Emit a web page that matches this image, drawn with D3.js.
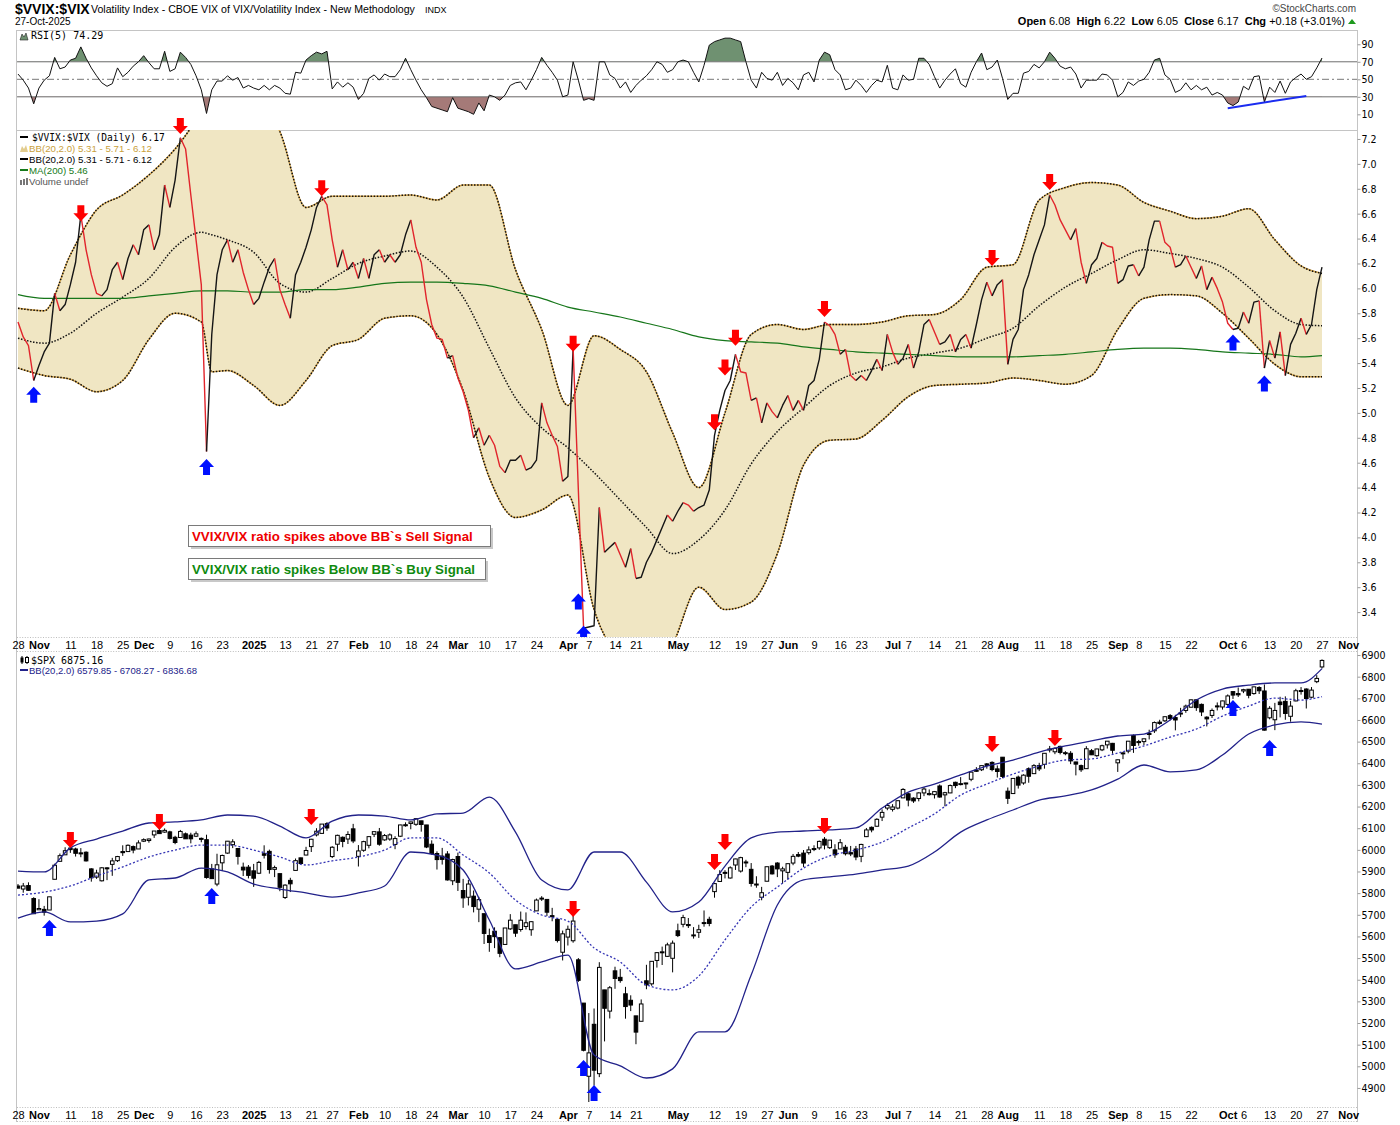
<!DOCTYPE html>
<html>
<head>
<meta charset="utf-8">
<title>$VVIX:$VIX</title>
<script src="https://cdn.jsdelivr.net/npm/d3@7/dist/d3.min.js"></script>
<style>
  body { margin: 0; background: #ffffff; }
</style>
</head>
<body>
<div id="chart"></div>
<script>
// ---- data ----

// $VVIX:$VIX daily close, Oct 28 2024 .. Oct 27 2025 (250 trading days)
const ratio = [
  5.73, 5.61, 5.54, 5.26, 5.38, 5.49, 5.56, 5.96, 5.82, 5.87,
  6.03, 6.21, 6.59, 6.31, 6.11, 5.96, 5.94, 5.99, 6.15, 6.21,
  6.07, 6.24, 6.35, 6.27, 6.47, 6.51, 6.31, 6.43, 6.83, 6.65,
  6.87, 7.21, 7.12, 6.75, 6.39, 6.03, 4.69, 5.63, 6.11, 6.31,
  6.39, 6.21, 6.31, 6.13, 5.99, 5.87, 5.92, 6.05, 6.17, 6.24,
  5.99, 5.87, 5.76, 6.11, 6.21, 6.33, 6.47, 6.65, 6.74, 6.67,
  6.39, 6.17, 6.31, 6.15, 6.21, 6.08, 6.24, 6.08, 6.27, 6.31,
  6.21, 6.27, 6.21, 6.27, 6.43, 6.55, 6.33, 6.21, 5.91, 5.71,
  5.60, 5.59, 5.44, 5.46, 5.28, 5.17, 5.02, 4.80, 4.88, 4.74,
  4.82, 4.74, 4.57, 4.52, 4.62, 4.62, 4.66, 4.54, 4.56, 4.62,
  5.08, 4.92, 4.82, 4.73, 4.45, 4.49, 5.52, 4.38, 3.27, 3.28,
  3.29, 4.24, 3.88, 3.92, 3.96, 3.86, 3.76, 3.91, 3.67, 3.68,
  3.80, 3.88, 3.98, 4.08, 4.18, 4.13, 4.21, 4.28, 4.26, 4.21,
  4.24, 4.26, 4.38, 4.82, 5.02, 5.18, 5.26, 5.47, 5.33, 5.32,
  5.10, 5.12, 4.92, 5.08, 5.01, 4.96, 5.06, 5.14, 5.02, 5.10,
  5.02, 5.22, 5.26, 5.43, 5.73, 5.70, 5.63, 5.47, 5.51, 5.30,
  5.26, 5.30, 5.26, 5.34, 5.43, 5.34, 5.63, 5.49, 5.39, 5.44,
  5.55, 5.36, 5.49, 5.71, 5.75, 5.65, 5.55, 5.57, 5.63, 5.49,
  5.59, 5.63, 5.52, 5.71, 5.91, 6.05, 5.94, 6.03, 6.07, 5.39,
  5.59, 5.67, 5.99, 6.11, 6.27, 6.39, 6.51, 6.75, 6.67, 6.55,
  6.47, 6.39, 6.48, 6.21, 6.04, 6.19, 6.24, 6.37, 6.34, 6.33,
  6.04, 6.07, 6.18, 6.19, 6.10, 6.17, 6.39, 6.54, 6.54, 6.37,
  6.33, 6.17, 6.19, 6.26, 6.17, 6.08, 6.18, 5.99, 6.09, 6.00,
  5.89, 5.72, 5.67, 5.68, 5.81, 5.72, 5.89, 5.90, 5.36, 5.58,
  5.44, 5.65, 5.30, 5.55, 5.64, 5.76, 5.63, 5.71, 5.99, 6.17
];

// RSI(5) of the ratio, one value per day
const rsi = [
  56, 49, 40, 22, 40, 49, 54, 75, 62, 64,
  72, 74, 87, 74, 63, 54, 46, 42, 45, 63,
  53, 58, 65, 70, 77, 69, 62, 62, 82, 59,
  62, 81, 75, 67, 54, 38, 11, 38, 48, 48,
  54, 49, 52, 40, 43, 40, 38, 43, 38, 43,
  40, 34, 33, 58, 57, 72, 77, 81, 79, 82,
  39, 47, 41, 46, 41, 27, 34, 51, 55, 49,
  56, 53, 53, 61, 74, 61, 49, 38, 29, 19,
  17, 15, 13, 29, 17, 15, 13, 10, 23, 14,
  32, 30, 26, 32, 43, 46, 47, 38, 49, 61,
  75, 66, 58, 49, 30, 32, 70, 49, 26, 28,
  26, 70, 70, 55, 51, 40, 47, 35, 43, 49,
  54, 61, 70, 67, 58, 61, 70, 72, 70, 58,
  47, 66, 89, 93, 95, 97, 97, 95, 93, 70,
  49, 40, 58, 51, 49, 58, 43, 51, 46, 38,
  55, 58, 47, 72, 81, 78, 61, 55, 38, 40,
  49, 43, 35, 43, 49, 47, 66, 40, 38, 55,
  49, 50, 74, 74, 67, 53, 40, 49, 56, 62,
  45, 41, 58, 70, 80, 61, 64, 72, 51, 27,
  34, 34, 57, 59, 67, 63, 70, 81, 74, 65,
  62, 64, 56, 40, 49, 49, 49, 56, 55, 49,
  30, 35, 47, 43, 48, 50, 58, 72, 74, 55,
  50, 35, 38, 46, 38, 43, 38, 41, 32, 35,
  32, 23, 20, 24, 42, 38, 53, 54, 24, 41,
  35, 48, 34, 47, 52, 56, 50, 53, 63, 74.29
];
// RSI trendline drawn on the chart: [day, rsi]
const rsiTrend = [[231, 17], [246, 31]];

// trading days at which the ratio's bands / MA were read
const ratioBandDays = [
  0, 5, 10, 15, 20, 25, 30, 35, 37, 40, 45, 50, 55, 60, 65, 70, 75, 80, 85, 90,
  95, 100, 105, 110, 115, 120, 125, 130, 135, 140, 145, 150, 155, 160, 165, 170,
  175, 180, 185, 190, 195, 200, 205, 210, 215, 220, 225, 230, 235, 240, 245, 249
];
const bbUpper = [
  5.84, 5.82, 6.27, 6.63, 6.75, 6.91, 7.12, 7.40, 7.50, 7.55, 7.55,
  7.26, 6.65, 6.74, 6.74, 6.74, 6.75, 6.71, 6.83, 6.83, 6.15,
  5.67, 5.06, 5.62, 5.51, 5.33, 4.84, 4.40, 5.00, 5.63, 5.71,
  5.67, 5.71, 5.71, 5.73, 5.78, 5.79, 5.91, 6.17, 6.19, 6.71,
  6.81, 6.85, 6.83, 6.69, 6.62, 6.56, 6.58, 6.64, 6.39, 6.18, 6.12
];
const bbMiddle = [
  5.60, 5.56, 5.64, 5.80, 5.93, 6.08, 6.33, 6.45, 6.43, 6.39, 6.29,
  6.04, 5.97, 6.08, 6.20, 6.26, 6.30, 6.17, 5.93, 5.52, 5.12,
  4.88, 4.72, 4.52, 4.30, 4.08, 3.87, 3.98, 4.22, 4.59, 4.85,
  5.04, 5.22, 5.32, 5.37, 5.44, 5.48, 5.52, 5.60, 5.68, 5.86,
  6.01, 6.12, 6.23, 6.31, 6.28, 6.24, 6.17, 6.01, 5.82, 5.71, 5.70
];
const bbLower = [
  5.36, 5.30, 5.27, 5.17, 5.26, 5.59, 5.80, 5.73, 5.33, 5.34, 5.22,
  5.06, 5.26, 5.54, 5.59, 5.76, 5.78, 5.63, 5.18, 4.48, 4.16,
  4.22, 4.34, 3.42, 3.02, 2.85, 3.14, 3.60, 3.42, 3.48, 3.87,
  4.58, 4.78, 4.79, 4.94, 5.13, 5.22, 5.23, 5.24, 5.28, 5.26,
  5.23, 5.30, 5.67, 5.92, 5.95, 5.94, 5.80, 5.60, 5.39, 5.29, 5.29
];
const ma200 = [
  5.95, 5.92, 5.92, 5.92, 5.92, 5.94, 5.96, 5.98, 5.98, 5.98, 5.97,
  5.97, 5.99, 5.99, 6.01, 6.04, 6.05, 6.05, 6.04, 6.02, 5.97,
  5.92, 5.85, 5.81, 5.77, 5.72, 5.67, 5.61, 5.58, 5.57, 5.56,
  5.53, 5.51, 5.49, 5.48, 5.47, 5.46, 5.45, 5.45, 5.45, 5.46,
  5.47, 5.49, 5.51, 5.52, 5.52, 5.51, 5.49, 5.48, 5.47, 5.45, 5.46
];

// $SPX daily candles [open, high, low, close]
const spxCandles = [
  [5833,5842,5823,5823],[5819,5847,5802,5833],[5835,5850,5811,5813],[5775,5781,5703,5705],
  [5723,5772,5723,5729],[5725,5741,5696,5712],[5722,5783,5722,5783],[5864,5936,5864,5929],
  [5947,5983,5947,5973],[5977,6012,5977,5996],[6008,6018,5986,6001],[6004,6010,5969,5984],
  [5986,6008,5966,5985],[5989,5993,5946,5949],[5912,5915,5853,5871],[5874,5908,5866,5893],
  [5857,5920,5854,5917],[5917,5920,5860,5917],[5933,5963,5880,5949],[5950,5972,5944,5969],
  [5992,6021,5972,5987],[5992,6025,5990,6021],[6015,6020,5984,5999],[6004,6044,6004,6032],
  [6040,6053,6036,6047],[6043,6052,6033,6050],[6069,6087,6055,6087],[6089,6099,6075,6075],
  [6082,6099,6079,6090],[6083,6088,6048,6053],[6058,6065,6026,6034],[6057,6092,6057,6085],
  [6074,6080,6051,6051],[6068,6079,6030,6051],[6063,6085,6059,6074],[6053,6057,6035,6050],
  [6047,6070,5867,5872],[5912,5935,5866,5867],[5842,5982,5832,5931],[5940,5978,5902,5974],
  [5985,6041,5982,6040],[6024,6049,6008,6037],[6006,6007,5932,5970],[5920,5941,5879,5907],
  [5920,5930,5868,5882],
  [5903,5935,5829,5869],[5892,5949,5888,5942],[5982,6021,5960,5975],[5993,6001,5890,5909],
  [5910,5927,5874,5918],[5890,5890,5809,5827],[5780,5841,5773,5837],[5859,5871,5805,5843],
  [5905,5960,5905,5950],[5963,5964,5935,5937],[5976,6014,5975,5997],[6015,6051,5990,6049],
  [6069,6100,6062,6086],[6076,6118,6075,6119],[6121,6128,6088,6101],[5969,6017,5962,6012],
  [6026,6070,5994,6067],[6058,6062,6012,6039],[6050,6086,6027,6071],[6097,6120,6031,6041],
  [5970,6022,5923,5995],[5998,6042,5991,6038],[6021,6062,6007,6061],[6072,6084,6059,6084],
  [6083,6101,6019,6026],[6046,6073,6042,6066],[6050,6076,6042,6069],[6025,6063,6003,6052],
  [6063,6116,6059,6115],[6116,6127,6107,6115],[6122,6130,6095,6129],[6118,6147,6111,6144],
  [6134,6134,6084,6117],[6115,6115,6008,6013],[6026,6044,5977,5983],[5983,5993,5909,5955],
  [5971,6009,5932,5956],[5981,5994,5858,5861],[5857,5959,5837,5955],
  [5969,5987,5810,5850],[5812,5866,5732,5778],[5781,5861,5743,5842],[5786,5812,5711,5738],
  [5726,5783,5666,5770],[5705,5705,5565,5614],[5604,5636,5529,5572],[5624,5642,5546,5599],
  [5594,5597,5504,5522],[5563,5639,5563,5639],[5635,5703,5630,5675],[5654,5654,5598,5615],
  [5632,5715,5622,5675],[5646,5711,5632,5663],[5631,5670,5603,5668],[5718,5775,5718,5768],
  [5775,5786,5764,5777],[5771,5772,5694,5712],[5696,5732,5670,5693],[5679,5685,5572,5581],
  [5527,5627,5489,5612],
  [5597,5650,5558,5633],[5580,5695,5571,5671],[5492,5500,5390,5397],[5292,5292,5069,5074],
  [4954,5246,4835,5062],[5194,5267,4911,4982],[4966,5481,4950,5457],[5353,5353,5115,5268],
  [5255,5371,5221,5363],[5441,5460,5358,5406],[5411,5450,5386,5396],[5335,5367,5220,5276],
  [5305,5328,5255,5283],[5233,5233,5102,5158],[5208,5309,5208,5288],[5395,5469,5356,5376],
  [5381,5485,5372,5485],[5489,5528,5456,5525],[5529,5553,5468,5529],[5508,5571,5505,5561],
  [5499,5581,5434,5569],
  [5626,5659,5597,5604],[5656,5700,5642,5687],[5655,5685,5639,5650],[5606,5643,5590,5607],
  [5619,5654,5593,5631],[5663,5720,5645,5664],[5679,5691,5647,5660],[5807,5845,5779,5844],
  [5854,5906,5852,5886],[5896,5906,5868,5892],[5870,5924,5867,5917],[5930,5959,5907,5958],
  [5902,5968,5895,5964],[5944,5954,5920,5940],[5910,5939,5830,5845],[5841,5878,5825,5842],
  [5781,5829,5767,5802],[5855,5922,5855,5922],[5925,5930,5886,5889],[5939,5943,5874,5912],
  [5903,5922,5843,5912],
  [5896,5937,5862,5936],[5939,5981,5929,5970],[5978,5990,5966,5971],[5985,5999,5921,5939],
  [5987,6016,5978,6000],[6004,6021,5994,6006],[6009,6043,6000,6039],[6049,6059,6002,6022],
  [6010,6045,6004,6045],[6000,6026,5963,5977],[6004,6050,6004,6033],[6012,6023,5974,5982],
  [5987,6018,5971,5981],[6004,6018,5952,5967],[5970,6028,5943,6025],[6061,6101,6059,6092],
  [6104,6108,6081,6092],[6109,6146,6107,6141],[6151,6187,6133,6173],[6193,6215,6183,6205],
  [6187,6211,6177,6198],[6193,6227,6187,6227],[6240,6285,6240,6279],[6259,6263,6201,6230],
  [6239,6243,6217,6226],[6237,6266,6224,6263],[6263,6290,6248,6281],[6255,6279,6251,6260],
  [6255,6272,6237,6269],[6295,6302,6241,6244],[6254,6268,6201,6264],[6263,6302,6262,6297],
  [6312,6315,6285,6297],[6304,6336,6298,6306],[6306,6310,6281,6309],[6326,6360,6317,6359],
  [6368,6382,6360,6363],[6370,6389,6364,6389],[6397,6401,6375,6390],[6404,6409,6363,6371],
  [6374,6390,6334,6362],[6428,6428,6331,6339],
  [6271,6288,6212,6238],[6260,6330,6260,6330],[6336,6343,6283,6299],[6309,6349,6301,6345],
  [6375,6381,6310,6340],[6352,6396,6352,6389],[6389,6402,6364,6374],[6395,6446,6375,6446],
  [6466,6480,6450,6466],[6453,6473,6442,6469],[6478,6481,6441,6450],[6445,6456,6437,6449],
  [6446,6456,6396,6411],[6406,6407,6344,6396],[6389,6394,6360,6370],[6375,6479,6375,6467],
  [6458,6466,6438,6439],[6435,6467,6430,6466],[6462,6486,6456,6481],[6485,6502,6468,6502],
  [6492,6494,6444,6460],
  [6402,6417,6360,6416],[6444,6453,6419,6448],[6456,6502,6446,6502],[6528,6533,6448,6482],
  [6500,6508,6481,6496],[6500,6513,6484,6513],[6538,6555,6510,6533],[6550,6593,6540,6588],
  [6590,6601,6578,6584],[6596,6616,6591,6615],[6620,6627,6598,6607],[6611,6624,6552,6600],
  [6631,6656,6613,6632],[6644,6671,6633,6664],[6659,6695,6658,6693],[6693,6697,6642,6657],
  [6672,6676,6618,6637],[6613,6617,6570,6605],[6621,6653,6609,6644],[6665,6681,6644,6661],
  [6660,6689,6648,6688],
  [6672,6718,6665,6711],[6731,6731,6697,6715],[6722,6750,6706,6716],[6734,6744,6724,6740],
  [6742,6743,6700,6714],[6722,6753,6717,6753],[6750,6756,6720,6735],[6734,6764,6551,6553],
  [6610,6664,6603,6654],[6601,6679,6553,6644],[6683,6707,6612,6671],[6686,6709,6601,6630],
  [6617,6688,6592,6664],[6688,6744,6686,6735],[6736,6752,6717,6735],[6743,6746,6653,6699],
  [6705,6752,6700,6738],[6777,6807,6770,6792],[6845,6880,6838,6875]
];

// $SPX BB(20,2), sampled every 5th trading day
const spxBandStep = 5;
const spxUpper = [
  5902, 5898, 6009, 6050, 6087, 6124, 6129, 6138, 6161, 6156,
  6110, 6055, 6133, 6161, 6156, 6138, 6166, 6170, 6244, 6082,
  5861, 5815, 5990, 5990, 5851, 5713, 5759, 5925, 6055, 6082,
  6087, 6092, 6101, 6193, 6267, 6304, 6346, 6387, 6415, 6452,
  6480, 6503, 6526, 6535, 6600, 6692, 6743, 6761, 6771, 6771, 6837
];
const spxMiddle = [
  5791, 5805, 5833, 5879, 5921, 5967, 5999, 6022, 6022, 5999,
  5967, 5930, 5949, 5967, 5999, 6055, 6055, 5976, 5893, 5768,
  5699, 5671, 5547, 5482, 5376, 5353, 5417, 5584, 5736, 5828,
  5916, 5972, 5999, 6036, 6101, 6166, 6253, 6304, 6350, 6387,
  6415, 6420, 6447, 6480, 6521, 6558, 6618, 6664, 6701, 6692, 6708
];
const spxLower = [
  5685, 5713, 5667, 5671, 5704, 5861, 5870, 5916, 5898, 5842,
  5819, 5801, 5782, 5801, 5833, 5990, 5976, 5907, 5676, 5450,
  5482, 5514, 5052, 5002, 4946, 4988, 5159, 5159, 5422, 5745,
  5861, 5875, 5888, 5907, 5925, 5990, 6082, 6138, 6184, 6230,
  6249, 6277, 6327, 6392, 6360, 6369, 6438, 6535, 6577, 6591, 6581
];

// signal arrows: [day, value at arrow tip]
const ratioSell = [[12,6.54],[31,7.24],[58,6.74],[106,5.49],[133,4.86],[135,5.30],[137,5.54],[154,5.77],[186,6.18],[197,6.79]];
const ratioBuy = [[3,5.21],[36,4.63],[107,3.55],[108,3.29],[232,5.63],[238,5.30]];
const spxSell = [[10,6009],[27,6092],[56,6115],[106,5690],[133,5907],[135,5999],[154,6073],[186,6452],[198,6480]];
const spxBuy = [[6,5676],[37,5824],[108,5029],[110,4914],[232,6692],[239,6507]];

// date axis labels: [trading day, label, bold]
const tickLabels = [
  [0,"28",0],[4,"Nov",1],[10,"11",0],[15,"18",0],[20,"25",0],[24,"Dec",1],[29,"9",0],[34,"16",0],
  [39,"23",0],[45,"2025",1],[51,"13",0],[56,"21",0],[60,"27",0],[65,"Feb",1],[70,"10",0],[75,"18",0],
  [79,"24",0],[84,"Mar",1],[89,"10",0],[94,"17",0],[99,"24",0],[105,"Apr",1],[109,"7",0],[114,"14",0],
  [118,"21",0],[126,"May",1],[133,"12",0],[138,"19",0],[143,"27",0],[147,"Jun",1],[152,"9",0],[157,"16",0],
  [161,"23",0],[167,"Jul",1],[170,"7",0],[175,"14",0],[180,"21",0],[185,"28",0],[189,"Aug",1],[195,"11",0],
  [200,"18",0],[205,"25",0],[210,"Sep",1],[214,"8",0],[219,"15",0],[224,"22",0],[231,"Oct",1],[234,"6",0],
  [239,"13",0],[244,"20",0],[249,"27",0],[254,"Nov",1]
];
const rsiTicks = [10, 30, 50, 70, 90];
const ratioTicks = [3.4,3.6,3.8,4.0,4.2,4.4,4.6,4.8,5.0,5.2,5.4,5.6,5.8,6.0,6.2,6.4,6.6,6.8,7.0,7.2];
const spxTicks = [4900,5000,5100,5200,5300,5400,5500,5600,5700,5800,5900,6000,6100,6200,6300,6400,6500,6600,6700,6800,6900];
const quote = [["Open","6.08"],["High","6.22"],["Low","6.05"],["Close","6.17"],["Chg","+0.18 (+3.01%)"]];

// ---- layout ----
const width = 1400, height = 1125;
const plotLeft = 17, plotRight = 1357;
const rsiTop = 30, rsiBottom = 130;
const mainTop = 130, mainBottom = 637;
const spxTop = 652, spxBottom = 1107;
const lastDay = ratio.length - 1;
const spxBandDay = k => Math.min(k * spxBandStep, lastDay);

const sans = '"Liberation Sans", Arial, sans-serif';
const narrow = '"Liberation Sans Narrow", "DejaVu Sans Condensed", "Liberation Sans", sans-serif';
const mono = '"DejaVu Sans Mono", "Liberation Mono", monospace';

const svg = d3.select("#chart").append("svg")
    .attr("width", width)
    .attr("height", height)
    .attr("font-family", sans);
const defs = svg.append("defs");

const x = d3.scaleLinear().domain([0, lastDay]).range([18, 1322]);
const yRsi = d3.scaleLinear().domain([-7.9, 106.3]).range([rsiBottom, rsiTop]);
const yRatio = d3.scaleLinear().domain([3.2, 7.272]).range([mainBottom, mainTop]);
const ySpx = d3.scaleLinear().domain([4812, 6914]).range([spxBottom, spxTop]);

function addClip(id, top, bottom) {
    defs.append("clipPath").attr("id", id).append("rect")
        .attr("x", plotLeft).attr("y", top)
        .attr("width", plotRight - plotLeft).attr("height", bottom - top);
}
addClip("clip-rsi", rsiTop, rsiBottom);
addClip("clip-rsi-hi", rsiTop, yRsi(70));
addClip("clip-rsi-lo", yRsi(30), rsiBottom);
addClip("clip-main", mainTop, mainBottom);
addClip("clip-spx", spxTop, spxBottom);

const arrowDown = "M-3.5,-16H3.5V-8H7.5L0,0L-7.5,-8H-3.5Z";
const arrowUp = "M-3.5,16H3.5V8H7.5L0,0L-7.5,8H-3.5Z";

function drawArrows(g, list, yScale, shape, color) {
    g.selectAll(null)
        .data(list)
        .enter()
        .append("path")
        .attr("d", shape)
        .attr("transform", d => `translate(${x(d[0])},${yScale(d[1])})`)
        .attr("fill", color);
}

// smooth line through band samples; dayOf maps sample position -> trading day
function bandPath(yScale, dayOf) {
    return d3.line()
        .x((d, k) => x(dayOf(k)))
        .y(d => yScale(d))
        .curve(d3.curveMonotoneX);
}
const ratioDay = k => ratioBandDays[k];

// ---- header ----
svg.append("text").attr("x", 15).attr("y", 14)
    .attr("font-size", 14).attr("font-weight", "bold").text("$VVIX:$VIX");
svg.append("text").attr("x", 91).attr("y", 13).attr("font-size", 10.6)
    .text("Volatility Index - CBOE VIX of VIX/Volatility Index - New Methodology");
svg.append("text").attr("x", 425).attr("y", 13).attr("font-size", 9).text("INDX");
svg.append("text").attr("x", 15).attr("y", 25).attr("font-size", 10).text("27-Oct-2025");
svg.append("text").attr("x", 1356).attr("y", 12).attr("text-anchor", "end")
    .attr("font-size", 10).attr("fill", "#444").text("\u00a9StockCharts.com");

const quoteText = svg.append("text").attr("x", 1345).attr("y", 25)
    .attr("text-anchor", "end").attr("font-size", 11).style("white-space", "pre");
quote.forEach(([label, value], k) => {
    quoteText.append("tspan").attr("font-weight", "bold").text(label + " ");
    quoteText.append("tspan").text(value + (k < quote.length - 1 ? "  " : ""));
});
svg.append("path").attr("d", "M1348,24L1352,19L1356,24Z").attr("fill", "#1e9a1e");

// ---- frames ----
const frame = svg.append("g").attr("stroke", "#c4c4c4").attr("fill", "none");
frame.append("line").attr("x1", plotLeft).attr("x2", plotRight).attr("y1", rsiTop + 0.5).attr("y2", rsiTop + 0.5);
frame.append("line").attr("x1", plotLeft).attr("x2", plotRight).attr("y1", mainTop + 0.5).attr("y2", mainTop + 0.5);
frame.append("line").attr("x1", plotLeft - 0.5).attr("x2", plotLeft - 0.5).attr("y1", rsiTop).attr("y2", spxBottom + 15);
frame.append("line").attr("x1", plotRight + 0.5).attr("x2", plotRight + 0.5).attr("y1", rsiTop).attr("y2", spxBottom + 15);

// ---- RSI panel ----
const rsiG = svg.append("g");
const rsiHi = d3.area().x((d, i) => x(i)).y0(yRsi(70)).y1(d => yRsi(d));
const rsiLo = d3.area().x((d, i) => x(i)).y0(yRsi(30)).y1(d => yRsi(d));
rsiG.append("path").datum(rsi).attr("d", rsiHi).attr("fill", "#6f9171").attr("clip-path", "url(#clip-rsi-hi)");
rsiG.append("path").datum(rsi).attr("d", rsiLo).attr("fill", "#a57a78").attr("clip-path", "url(#clip-rsi-lo)");
[70, 30].forEach(v => {
    rsiG.append("line").attr("x1", plotLeft).attr("x2", plotRight)
        .attr("y1", yRsi(v)).attr("y2", yRsi(v)).attr("stroke", "#6e6e6e");
});
rsiG.append("line").attr("x1", plotLeft).attr("x2", plotRight)
    .attr("y1", yRsi(50)).attr("y2", yRsi(50))
    .attr("stroke", "#777").attr("stroke-dasharray", "7,3,2,3");
rsiG.append("path").datum(rsi)
    .attr("d", d3.line().x((d, i) => x(i)).y(d => yRsi(d)))
    .attr("fill", "none").attr("stroke", "#111").attr("stroke-width", 1)
    .attr("clip-path", "url(#clip-rsi)");
rsiG.append("path").datum(rsiTrend)
    .attr("d", d3.line().x(d => x(d[0])).y(d => yRsi(d[1])))
    .attr("stroke", "#1a2cf0").attr("stroke-width", 2);
// legend
rsiG.append("path").attr("d", "M20,40L22,34L24,37L26,33L28,40Z").attr("fill", "#6f9171").attr("stroke", "#222").attr("stroke-width", 0.6);
rsiG.append("text").attr("x", 31).attr("y", 39).attr("font-family", mono).attr("font-size", 10).text("RSI(5) 74.29");

// ---- ratio panel ----
const mainG = svg.append("g").attr("clip-path", "url(#clip-main)");
const bbArea = d3.area()
    .x((d, k) => x(ratioDay(k)))
    .y0((d, k) => yRatio(bbLower[k]))
    .y1(d => yRatio(d))
    .curve(d3.curveMonotoneX);
mainG.append("path").datum(bbUpper).attr("d", bbArea).attr("fill", "#f0e6c3");

[bbUpper, bbLower].forEach(band => {
    mainG.append("path").datum(band).attr("d", bandPath(yRatio, ratioDay))
        .attr("fill", "none").attr("stroke", "#d9a84e").attr("stroke-width", 1.4);
    mainG.append("path").datum(band).attr("d", bandPath(yRatio, ratioDay))
        .attr("fill", "none").attr("stroke", "#111").attr("stroke-width", 1.5)
        .attr("stroke-dasharray", "1.5,1.6");
});
mainG.append("path").datum(bbMiddle).attr("d", bandPath(yRatio, ratioDay))
    .attr("fill", "none").attr("stroke", "#111").attr("stroke-width", 1.5)
    .attr("stroke-dasharray", "1.5,1.6");
mainG.append("path").datum(ma200).attr("d", bandPath(yRatio, ratioDay))
    .attr("fill", "none").attr("stroke", "#16761a").attr("stroke-width", 1.2);

// ratio line: black while rising, red while falling
const runs = [];
ratio.forEach((v, i) => {
    if (i === 0) return;
    const up = v >= ratio[i - 1];
    const run = runs[runs.length - 1];
    if (run && run.up === up) run.days.push(i);
    else runs.push({ up: up, days: [i - 1, i] });
});
const ratioLine = d3.line().x(i => x(i)).y(i => yRatio(ratio[i]));
mainG.selectAll(null)
    .data(runs)
    .enter()
    .append("path")
    .attr("d", d => ratioLine(d.days))
    .attr("fill", "none")
    .attr("stroke", d => d.up ? "#151515" : "#e1252c")
    .attr("stroke-width", 1.4)
    .attr("stroke-linejoin", "round");

const mainArrows = svg.append("g");
drawArrows(mainArrows, ratioSell, yRatio, arrowDown, "#ff0000");
drawArrows(mainArrows, ratioBuy, yRatio, arrowUp, "#0010ff");

// legend
const lg = svg.append("g");
const legendRows = [
    ["$VVIX:$VIX (Daily) 6.17", "#000", mono, "line", "#000"],
    ["BB(20,2.0) 5.31 - 5.71 - 6.12", "#c9a13c", sans, "mount", "#e2cc8e"],
    ["BB(20,2.0) 5.31 - 5.71 - 6.12", "#000", sans, "line", "#000"],
    ["MA(200) 5.46", "#167a1a", sans, "line", "#167a1a"],
    ["Volume undef", "#555", sans, "bars", "#777"]
];
legendRows.forEach(([label, color, font, icon, iconColor], k) => {
    const cy = 137 + k * 11;
    if (icon === "line") {
        lg.append("line").attr("x1", 20).attr("x2", 28).attr("y1", cy).attr("y2", cy)
            .attr("stroke", iconColor).attr("stroke-width", 2);
    } else if (icon === "mount") {
        lg.append("path").attr("d", `M20,${cy + 4}L22,${cy - 2}L24,${cy + 1}L26,${cy - 3}L28,${cy + 4}Z`).attr("fill", iconColor);
    } else {
        [20, 23, 26].forEach((bx, j) => {
            lg.append("rect").attr("x", bx).attr("y", cy - 1 - j).attr("width", 2).attr("height", 5 + j).attr("fill", iconColor);
        });
    }
    lg.append("text").attr("x", k === 0 ? 32 : 29).attr("y", cy + 4)
        .attr("font-family", font).attr("font-size", k === 0 ? 9.6 : 9.7).attr("fill", color).text(label);
});

// note boxes
const notes = [
    ["VVIX/VIX ratio spikes above BB`s Sell Signal", "#ee0000", 525, 302],
    ["VVIX/VIX ratio spikes Below BB`s Buy Signal", "#0f8a0f", 558, 297]
];
notes.forEach(([label, color, top, w]) => {
    svg.append("rect").attr("x", 191).attr("y", top + 3).attr("width", w).attr("height", 21).attr("fill", "#c8c8c8");
    svg.append("rect").attr("x", 188.5).attr("y", top + 0.5).attr("width", w).attr("height", 21)
        .attr("fill", "#fff").attr("stroke", "#7a7a7a");
    svg.append("text").attr("x", 192).attr("y", top + 15.5).attr("font-size", 13.3)
        .attr("font-weight", "bold").attr("fill", color).text(label);
});

// ---- SPX panel ----
const spxG = svg.append("g").attr("clip-path", "url(#clip-spx)");
const candleW = 3.6;
spxG.selectAll(null)
    .data(spxCandles)
    .enter()
    .append("line")
    .attr("x1", (d, i) => x(i)).attr("x2", (d, i) => x(i))
    .attr("y1", d => ySpx(d[1])).attr("y2", d => ySpx(d[2]))
    .attr("stroke", "#000").attr("stroke-width", 1);
spxG.selectAll(null)
    .data(spxCandles)
    .enter()
    .append("rect")
    .attr("x", (d, i) => x(i) - candleW / 2)
    .attr("y", d => ySpx(Math.max(d[0], d[3])))
    .attr("width", candleW)
    .attr("height", d => Math.max(1, Math.abs(ySpx(d[0]) - ySpx(d[3]))))
    .attr("fill", d => d[3] >= d[0] ? "#fff" : "#000")
    .attr("stroke", "#000").attr("stroke-width", 1);

[spxUpper, spxLower].forEach(band => {
    spxG.append("path").datum(band).attr("d", bandPath(ySpx, spxBandDay))
        .attr("fill", "none").attr("stroke", "#22228a").attr("stroke-width", 1.3);
});
spxG.append("path").datum(spxMiddle).attr("d", bandPath(ySpx, spxBandDay))
    .attr("fill", "none").attr("stroke", "#3434b4").attr("stroke-width", 1.3)
    .attr("stroke-dasharray", "2,2");

const spxArrows = svg.append("g");
drawArrows(spxArrows, spxSell, ySpx, arrowDown, "#ff0000");
drawArrows(spxArrows, spxBuy, ySpx, arrowUp, "#0010ff");

// legend
const sl = svg.append("g");
sl.append("line").attr("x1", 22).attr("x2", 22).attr("y1", 656).attr("y2", 664).attr("stroke", "#000");
sl.append("rect").attr("x", 20.5).attr("y", 657.5).attr("width", 3).attr("height", 5).attr("fill", "#000");
sl.append("line").attr("x1", 27).attr("x2", 27).attr("y1", 656).attr("y2", 664).attr("stroke", "#000");
sl.append("rect").attr("x", 25.5).attr("y", 657.5).attr("width", 3).attr("height", 5).attr("fill", "#fff").attr("stroke", "#000");
sl.append("text").attr("x", 31).attr("y", 664).attr("font-family", mono).attr("font-size", 10).text("$SPX 6875.16");
sl.append("line").attr("x1", 20).attr("x2", 28).attr("y1", 670).attr("y2", 670).attr("stroke", "#22228a").attr("stroke-width", 2);
sl.append("text").attr("x", 29).attr("y", 674).attr("font-family", sans).attr("font-size", 9.5)
    .attr("fill", "#22228a").text("BB(20,2.0) 6579.85 - 6708.27 - 6836.68");

// ---- axes ----
function drawDateAxis(top) {
    const g = svg.append("g");
    g.append("rect").attr("x", plotLeft).attr("y", top).attr("width", plotRight - plotLeft).attr("height", 15).attr("fill", "#fff");
    [top + 0.5, top + 14.5].forEach(yy => {
        g.append("line").attr("x1", plotLeft).attr("x2", plotRight).attr("y1", yy).attr("y2", yy)
            .attr("stroke", "#bdbdbd").attr("stroke-dasharray", "1,1.6");
    });
    const axis = d3.axisBottom(x)
        .tickValues(tickLabels.map(d => d[0]))
        .tickFormat((d, k) => tickLabels[k][1])
        .tickSize(0)
        .tickPadding(4);
    const ax = g.append("g").attr("transform", `translate(0,${top})`).call(axis);
    ax.select(".domain").remove();
    ax.selectAll("text")
        .attr("font-family", sans)
        .attr("font-size", 11)
        .attr("fill", "#000")
        .attr("font-weight", (d, k) => tickLabels[k][2] ? "bold" : "normal");
}
drawDateAxis(mainBottom);
drawDateAxis(spxBottom);

function drawValueAxis(yScale, values, fmt) {
    const axis = d3.axisRight(yScale).tickValues(values).tickFormat(fmt).tickSize(3).tickPadding(1);
    const g = svg.append("g").attr("transform", `translate(${plotRight + 0.5},0)`).call(axis);
    g.select(".domain").remove();
    g.selectAll("line").attr("stroke", "#9a9a9a");
    g.selectAll("text").attr("font-family", narrow).attr("font-size", 10.5).attr("fill", "#000");
}
drawValueAxis(yRsi, rsiTicks, d3.format("d"));
drawValueAxis(yRatio, ratioTicks, d3.format(".1f"));
drawValueAxis(ySpx, spxTicks, d3.format("d"));
</script>
</body>
</html>
